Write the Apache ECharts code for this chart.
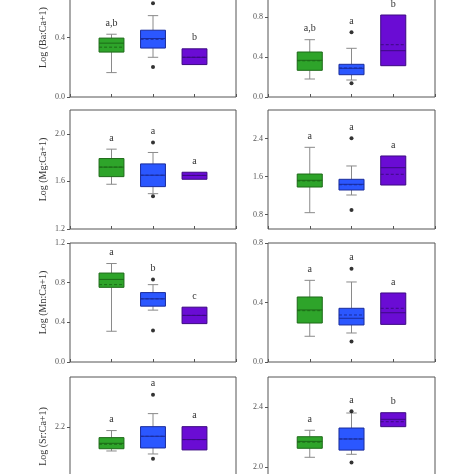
<!DOCTYPE html>
<html>
<head>
<meta charset="utf-8">
<script src="https://cdn.jsdelivr.net/npm/echarts@6/dist/echarts.min.js"></script>
<style>
  html, body { margin: 0; padding: 0; background: #fff; }
  #chart { width: 474px; height: 474px; }
</style>
</head>
<body>
<div id="chart"></div>
<script>
  // group positions on the x axis (three groups, no tick labels)
  const groupX = [1, 2, 3];

  // box data per panel: [whiskerLow, q1, median, mean, q3, whiskerHigh]
  const baCaBoxes = [[0.164, 0.302, 0.362, 0.335, 0.396, 0.422], [0.267, 0.329, 0.393, 0.388, 0.449, 0.547], [0.218, 0.218, 0.267, 0.267, 0.324, 0.324]];
  const baCaOutliers = [[2, 0.631], [2, 0.202]];
  const baCaLetters = ['a,b', 'a', 'b'];

  const baCa2Boxes = [[0.18, 0.267, 0.367, 0.362, 0.45, 0.573], [0.17, 0.223, 0.287, 0.29, 0.327, 0.487], [0.313, 0.313, 0.463, 0.523, 0.82, 0.82]];
  const baCa2Outliers = [[2, 0.647], [2, 0.137]];
  const baCa2Letters = ['a,b', 'a', 'b'];

  const mgCaBoxes = [[1.576, 1.64, 1.72, 1.72, 1.792, 1.871], [1.497, 1.556, 1.652, 1.652, 1.747, 1.843], [1.618, 1.618, 1.65, 1.65, 1.677, 1.677]];
  const mgCaOutliers = [[2, 1.927], [2, 1.475]];
  const mgCaLetters = ['a', 'a', 'a'];

  const mgCa2Boxes = [[0.843, 1.382, 1.523, 1.51, 1.655, 2.216], [1.214, 1.319, 1.439, 1.43, 1.544, 1.824], [1.424, 1.424, 1.788, 1.649, 2.034, 2.034]];
  const mgCa2Outliers = [[2, 2.405], [2, 0.899]];
  const mgCa2Letters = ['a', 'a', 'a'];

  const mnCaBoxes = [[0.31, 0.753, 0.833, 0.78, 0.897, 0.993], [0.523, 0.563, 0.637, 0.637, 0.70, 0.78], [0.387, 0.387, 0.47, 0.47, 0.553, 0.553]];
  const mnCaOutliers = [[2, 0.833], [2, 0.317]];
  const mnCaLetters = ['a', 'b', 'c'];

  const mnCa2Boxes = [[0.173, 0.262, 0.35, 0.345, 0.437, 0.549], [0.195, 0.249, 0.294, 0.316, 0.361, 0.538], [0.253, 0.253, 0.331, 0.361, 0.464, 0.464]];
  const mnCa2Outliers = [[2, 0.627], [2, 0.137]];
  const mnCa2Letters = ['a', 'a', 'a'];

  const srCaBoxes = [[2.04, 2.055, 2.091, 2.085, 2.129, 2.176], [2.02, 2.06, 2.138, 2.138, 2.202, 2.289], [2.047, 2.047, 2.116, 2.116, 2.202, 2.202]];
  const srCaOutliers = [[2, 2.415], [2, 1.989]];
  const srCaLetters = ['a', 'a', 'a'];

  const srCa2Boxes = [[2.065, 2.125, 2.171, 2.166, 2.202, 2.245], [2.085, 2.113, 2.187, 2.187, 2.26, 2.36], [2.269, 2.269, 2.318, 2.302, 2.362, 2.362]];
  const srCa2Outliers = [[2, 2.371], [2, 2.031]];
  const srCa2Letters = ['a', 'a', 'b'];

  // y tick labels per panel
  const ticksBa = [0.0, 0.4, 0.8];
  const ticksBa2 = [0.0, 0.4, 0.8, 1.2];
  const ticksMg = [1.2, 1.6, 2.0];
  const ticksMg2 = [0.8, 1.6, 2.4];
  const ticksMn = [0.0, 0.4, 0.8, 1.2];
  const ticksMn2 = [0.0, 0.4, 0.8];
  const ticksSr = [1.8, 2.2, 2.6];
  const ticksSr2 = [2.0, 2.4];

  const yNames = ['Log (Ba:Ca+1)', 'Log (Mg:Ca+1)', 'Log (Mn:Ca+1)', 'Log (Sr:Ca+1)'];

  const fills = ['#2ea42a', '#2b57ff', '#6a0cd4'];
  const strokes = ['#1d6a18', '#1a2c9c', '#3c0a82'];
  const serif = 'Liberation Serif';

  const panels = [
    { boxes: baCaBoxes, outliers: baCaOutliers, letters: baCaLetters, ticks: ticksBa, min: 0, max: 0.8, col: 0, row: 0 },
    { boxes: baCa2Boxes, outliers: baCa2Outliers, letters: baCa2Letters, ticks: ticksBa2, min: 0, max: 1.19, col: 1, row: 0 },
    { boxes: mgCaBoxes, outliers: mgCaOutliers, letters: mgCaLetters, ticks: ticksMg, min: 1.2, max: 2.2, col: 0, row: 1 },
    { boxes: mgCa2Boxes, outliers: mgCa2Outliers, letters: mgCa2Letters, ticks: ticksMg2, min: 0.5, max: 3.0, col: 1, row: 1 },
    { boxes: mnCaBoxes, outliers: mnCaOutliers, letters: mnCaLetters, ticks: ticksMn, min: 0, max: 1.2, col: 0, row: 2 },
    { boxes: mnCa2Boxes, outliers: mnCa2Outliers, letters: mnCa2Letters, ticks: ticksMn2, min: 0, max: 0.8, col: 1, row: 2 },
    { boxes: srCaBoxes, outliers: srCaOutliers, letters: srCaLetters, ticks: ticksSr, min: 1.74, max: 2.533, col: 0, row: 3 },
    { boxes: srCa2Boxes, outliers: srCa2Outliers, letters: srCa2Letters, ticks: ticksSr2, min: 1.807, max: 2.6, col: 1, row: 3 }
  ];

  const colLeft = [70, 268];
  const colWidth = [166, 167];
  const rowTop = [-22, 110, 243, 377];
  const rowHeight = 119;

  function renderBox (params, api, letters) {
    const i = params.dataIndex;
    const x = api.value(0);
    const lo = api.coord([x, api.value(1)]);
    const q1 = api.coord([x, api.value(2)]);
    const med = api.coord([x, api.value(3)]);
    const mean = api.coord([x, api.value(4)]);
    const q3 = api.coord([x, api.value(5)]);
    const hi = api.coord([x, api.value(6)]);
    const top = api.coord([x, api.value(7)]);
    const w = api.size([0.6, 0])[0];
    const cap = api.size([0.25, 0])[0];
    const cx = lo[0];
    const children = [];
    const whisker = { stroke: '#8a8a8a', lineWidth: 1 };
    if (hi[1] < q3[1] - 0.5) {
      children.push({ type: 'line', shape: { x1: cx, y1: q3[1], x2: cx, y2: hi[1] }, style: whisker });
      children.push({ type: 'line', shape: { x1: cx - cap / 2, y1: hi[1], x2: cx + cap / 2, y2: hi[1] }, style: whisker });
    }
    if (lo[1] > q1[1] + 0.5) {
      children.push({ type: 'line', shape: { x1: cx, y1: q1[1], x2: cx, y2: lo[1] }, style: whisker });
      children.push({ type: 'line', shape: { x1: cx - cap / 2, y1: lo[1], x2: cx + cap / 2, y2: lo[1] }, style: whisker });
    }
    children.push({
      type: 'rect',
      shape: { x: cx - w / 2, y: q3[1], width: w, height: q1[1] - q3[1] },
      style: { fill: fills[i], stroke: strokes[i], lineWidth: 1 }
    });
    children.push({ type: 'line', shape: { x1: cx - w / 2, y1: med[1], x2: cx + w / 2, y2: med[1] }, style: { stroke: strokes[i], lineWidth: 1 } });
    children.push({ type: 'line', shape: { x1: cx - w / 2, y1: mean[1], x2: cx + w / 2, y2: mean[1] }, style: { stroke: strokes[i], lineWidth: 1, lineDash: [3, 2] } });
    children.push({
      type: 'text',
      style: {
        text: letters[i], x: cx, y: top[1] - 11,
        align: 'center', verticalAlign: 'middle',
        fill: '#333', font: '10px "' + serif + '"'
      }
    });
    return { type: 'group', children: children };
  }

  const grid = [], xAxis = [], yAxis = [], series = [];
  panels.forEach((p, k) => {
    grid.push({
      left: colLeft[p.col], top: rowTop[p.row], width: colWidth[p.col], height: rowHeight,
      outerBoundsMode: 'none', containLabel: false,
      show: true, borderColor: '#555', borderWidth: 1, backgroundColor: 'transparent'
    });
    xAxis.push({
      gridIndex: k, type: 'value', min: 0, max: 4, interval: 1,
      axisLine: { show: false }, splitLine: { show: false },
      axisTick: { inside: true, length: 3, lineStyle: { color: '#555' } },
      axisLabel: { show: false }
    });
    yAxis.push({
      gridIndex: k, type: 'value', min: p.min, max: p.max,
      name: p.col === 0 ? yNames[p.row] : '',
      nameLocation: 'middle', nameGap: 22,
      nameTextStyle: { fontFamily: serif, fontSize: 10, color: '#333' },
      axisLine: { show: false }, splitLine: { show: false },
      axisTick: { length: 3, customValues: p.ticks, lineStyle: { color: '#555' } },
      axisLabel: {
        customValues: p.ticks, margin: 5, fontFamily: serif, fontSize: 8, color: '#555',
        formatter: v => v.toFixed(1)
      }
    });
    const boxData = p.boxes.map((b, j) => {
      let top = b[5];
      p.outliers.forEach(o => { if (o[0] === groupX[j] && o[1] > top) top = o[1]; });
      return [groupX[j]].concat(b).concat([top]);
    });
    series.push({
      type: 'custom', xAxisIndex: k, yAxisIndex: k, clip: false,
      renderItem: (params, api) => renderBox(params, api, p.letters),
      encode: { x: 0, y: [1, 2, 3, 4, 5, 6, 7] },
      data: boxData, silent: true
    });
    series.push({
      type: 'scatter', xAxisIndex: k, yAxisIndex: k, symbolSize: 4,
      itemStyle: { color: '#000' }, data: p.outliers, silent: true
    });
  });

  const chart = echarts.init(document.getElementById('chart'));
  chart.setOption({ animation: false, grid: grid, xAxis: xAxis, yAxis: yAxis, series: series });
</script>
</body>
</html>
